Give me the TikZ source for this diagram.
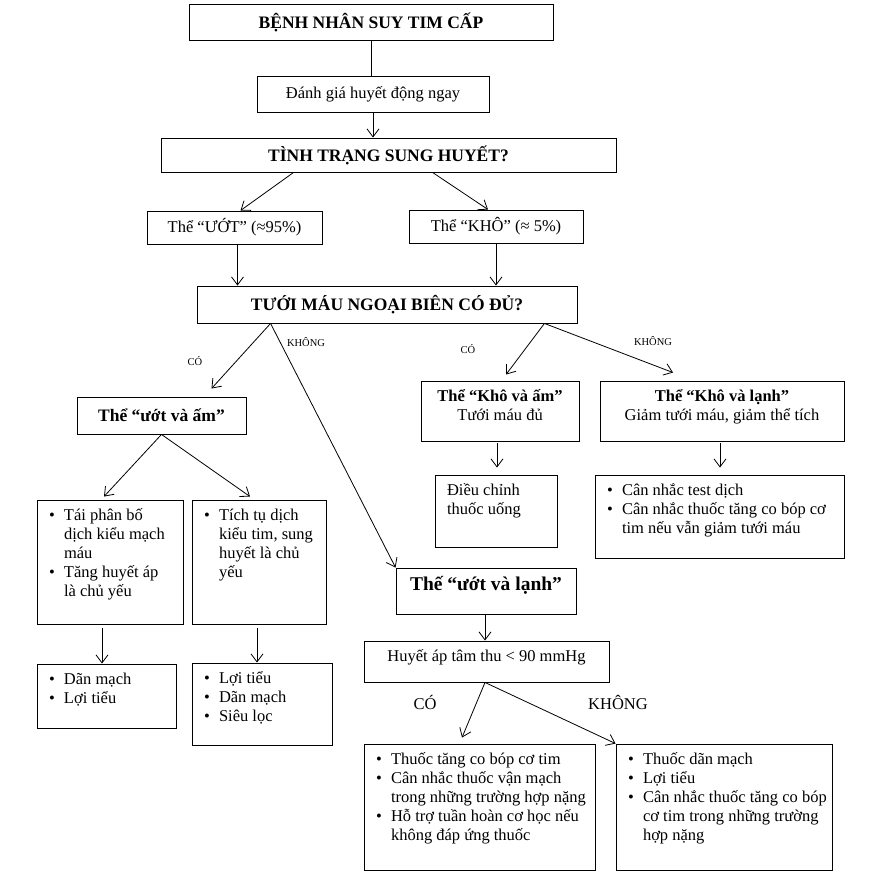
\documentclass[tikz,border=0pt]{standalone}
\usepackage{fontspec}
\setmainfont{Liberation Serif}
\usetikzlibrary{arrows.meta}
\newcommand{\bitem}[1]{\par\hangindent=15pt\hangafter=1\noindent\makebox[15pt][l]{\textbullet}\strut#1}
\newcommand{\tbox}[3]{\hspace*{12pt}\parbox[c][\dimexpr#2pt-15pt\relax][t]{\dimexpr#1pt-16pt\relax}{\raggedright#3}\hspace*{4pt}}
\newcommand{\cbox}[3]{\hspace*{8pt}\parbox[c][\dimexpr#2pt-15pt\relax][t]{\dimexpr#1pt-16pt\relax}{\centering\strut#3}\hspace*{8pt}}
\newcommand{\head}[1]{{\fontsize{17.5}{20}\selectfont\bfseries#1}}
\tikzset{
  font=\fontsize{16.5}{19}\selectfont,
  box/.style 2 args={draw, line width=0.9pt, minimum width=#1pt,
    minimum height=#2pt, inner sep=2pt},
  listbox/.style={draw, line width=0.9pt, inner xsep=0pt, inner ysep=7.5pt},
  flow/.style={-{Straight Barb[length=8pt, width=12pt]}, line width=0.8pt},
  link/.style={line width=0.8pt},
  smalllabel/.style={font=\fontsize{10.5}{12}\selectfont},
}

\begin{document}
\begin{tikzpicture}[x=1pt, y=-1pt]
  \useasboundingbox (0,0) rectangle (885,891);

  % ----------------------------------------------------------------
  % Top: patient -> assessment -> congestion question
  % ----------------------------------------------------------------
  \node[box={364}{36}] (pat) at (371,22) {\head{BỆNH NHÂN SUY TIM CẤP}};
  \node[box={232}{36}] (hemo) at (373,94) {Đánh giá huyết động ngay};
  \node[box={455}{34}] (cong) at (388.5,155) {\head{TÌNH TRẠNG SUNG HUYẾT?}};

  \node[box={175}{33}] (wet) at (234.5,227.5) {Thể “ƯỚT” (≈95\%)};
  \node[box={174}{33}] (dry) at (496,226.5) {Thể “KHÔ” (≈ 5\%)};

  \node[box={380}{37}] (perf) at (387,304.5) {\head{TƯỚI MÁU NGOẠI BIÊN CÓ ĐỦ?}};

  % ----------------------------------------------------------------
  % Left branch: wet and warm
  % ----------------------------------------------------------------
  \node[box={169}{37}] (wwarm) at (161.5,415.5) {\head{Thể “ướt và ấm”}};

  \node[listbox] (redis) at (110,562)
    {\tbox{146}{124}{\bitem{Tái phân bố\newline dịch kiểu mạch\newline máu}\bitem{Tăng huyết áp\newline là chủ yếu}}};
  \node[listbox] (accum) at (259,562)
    {\tbox{134}{124}{\bitem{Tích tụ dịch\newline kiểu tim, sung\newline huyết là chủ\newline yếu}}};

  \node[listbox] (txA) at (106.5,696)
    {\tbox{139}{64}{\bitem{Dãn mạch}\bitem{Lợi tiểu}}};
  \node[listbox] (txB) at (262,704)
    {\tbox{140}{82}{\bitem{Lợi tiểu}\bitem{Dãn mạch}\bitem{Siêu lọc}}};

  % ----------------------------------------------------------------
  % Right branch: dry profiles
  % ----------------------------------------------------------------
  \node[listbox] (dwarm) at (500,411)
    {\cbox{158}{60}{\textbf{Thể “Khô và ấm”}\\Tưới máu đủ}};
  \node[listbox] (dcold) at (722,411)
    {\cbox{244}{60}{\textbf{Thể “Khô và lạnh”}\\Giảm tưới máu, giảm thể tích}};

  \node[listbox] (adj) at (496,511)
    {\tbox{122}{72}{\strut Điều chỉnh\newline thuốc uống}};
  \node[listbox] (fluid) at (719.5,516.5)
    {\tbox{249}{83}{\bitem{Cân nhắc test dịch}\bitem{Cân nhắc thuốc tăng co bóp cơ\newline tim nếu vẫn giảm tưới máu}}};

  % ----------------------------------------------------------------
  % Middle branch: wet and cold
  % ----------------------------------------------------------------
  \node[listbox] (wcold) at (486,591)
    {\cbox{180}{46}{\fontsize{19.5}{22}\selectfont\strut\textbf{Thế “ướt và lạnh”}}};
  \node[listbox] (sbp) at (486.5,661.5)
    {\cbox{245}{41}{Huyết áp tâm thu < 90 mmHg}};

  \node[listbox] (inoA) at (479.5,807)
    {\tbox{231}{126}{\bitem{Thuốc tăng co bóp cơ tim}\bitem{Cân nhắc thuốc vận mạch\newline trong những trường hợp nặng}\bitem{Hỗ trợ tuần hoàn cơ học nếu\newline không đáp ứng thuốc}}};
  \node[listbox] (vasoB) at (724,807)
    {\tbox{216}{126}{\bitem{Thuốc dãn mạch}\bitem{Lợi tiểu}\bitem{Cân nhắc thuốc tăng co bóp\newline cơ tim trong những trường\newline hợp nặng}}};

  % ----------------------------------------------------------------
  % Branch labels
  % ----------------------------------------------------------------
  \node[smalllabel] (yesA) at (195,361) {CÓ};
  \node[smalllabel] (noA) at (306,342) {KHÔNG};
  \node[smalllabel] (yesB) at (468,349) {CÓ};
  \node[smalllabel] (noB) at (653,341) {KHÔNG};
  \node (yesC) at (425,702) {CÓ};
  \node (noC) at (618,702) {KHÔNG};

  % ----------------------------------------------------------------
  % Connectors
  % ----------------------------------------------------------------
  \draw[link] (pat.south) -- (pat.south |- hemo.north);
  \draw[flow] (hemo.south) -- (hemo.south |- cong.north);
  \draw[flow] ([xshift=133pt]cong.south west) -- ([xshift=6pt]wet.north);
  \draw[flow] ([xshift=272pt]cong.south west) -- ([xshift=-8pt]dry.north);
  \draw[flow] ([xshift=3pt]wet.south) -- ([xshift=3pt]wet.south |- perf.north);
  \draw[flow] (dry.south) -- (dry.south |- perf.north);

  \draw[flow] ([xshift=74pt]perf.south west) -- ([xshift=50pt,yshift=8pt]wwarm.north);
  \draw[flow] ([xshift=74pt]perf.south west) -- (wcold.north west);
  \draw[flow] ([xshift=-33pt]perf.south east) -- ([xshift=6pt,yshift=6pt]dwarm.north);
  \draw[flow] ([xshift=-33pt]perf.south east) -- ([xshift=-49pt,yshift=8pt]dcold.north);

  \draw[flow] (wwarm.south) -- ([xshift=-6pt,yshift=3pt]redis.north);
  \draw[flow] (wwarm.south) -- ([xshift=-9pt,yshift=3pt]accum.north);
  \draw[flow] ([xshift=-8pt,yshift=-4pt]redis.south) -- ([xshift=-4.5pt]txA.north);
  \draw[flow] ([xshift=-2pt,yshift=-4pt]accum.south) -- ([xshift=-5pt]txB.north);

  \draw[flow] ([xshift=-3pt,yshift=-2pt]dwarm.south) -- ([xshift=1pt,yshift=7pt]adj.north);
  \draw[flow] ([xshift=-2pt,yshift=-2pt]dcold.south) -- ([xshift=0.5pt,yshift=7pt]fluid.north);

  \draw[flow] ([xshift=-1pt]wcold.south) -- ([xshift=-1.5pt]sbp.north);
  \draw[flow] ([xshift=-1.5pt]sbp.south) -- ([xshift=-17.5pt,yshift=6pt]inoA.north);
  \draw[flow] ([xshift=-1.5pt]sbp.south) -- (vasoB.north west);

\end{tikzpicture}
\end{document}
